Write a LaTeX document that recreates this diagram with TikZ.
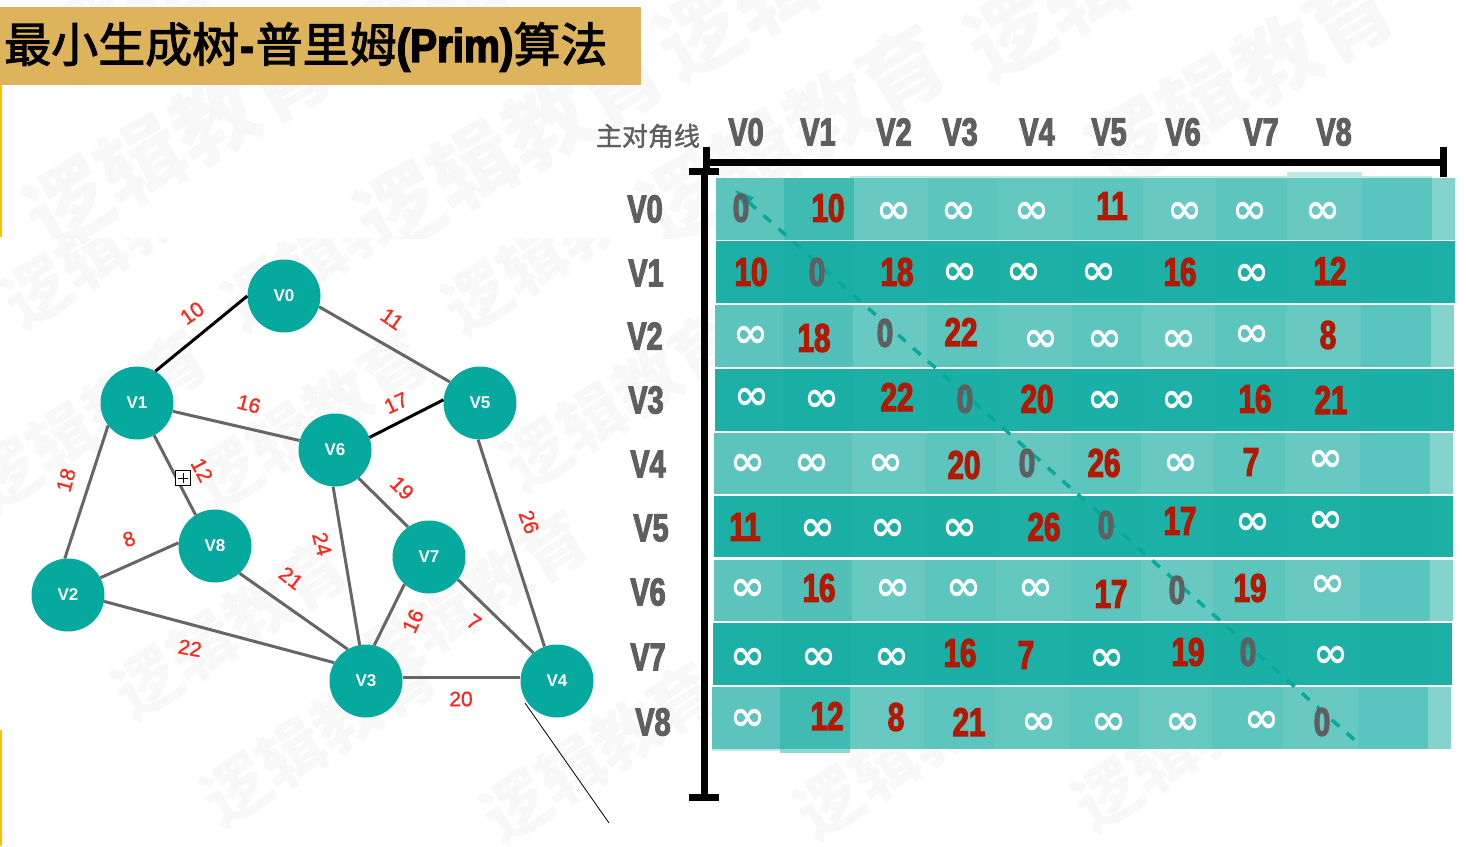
\documentclass[tikz,border=0pt]{standalone}
\usepackage{fontspec}
\usetikzlibrary{arrows,arrows.meta}
\setmainfont{Liberation Sans}
\newfontfamily\heavyfont[FakeStretch=0.74,BoldFeatures={FakeStretch=0.74,FakeBold=2.8}]{Liberation Sans}
\newfontfamily\primfont[FakeStretch=0.86,BoldFeatures={FakeStretch=0.86,FakeBold=3}]{Liberation Sans}
\newfontfamily\weightfont[FakeBold=0.8]{Liberation Sans}
\newfontfamily\cjkfont{Noto Sans CJK SC}
\newfontfamily\titlefont[FakeBold=2.2]{Noto Sans CJK SC}
\newfontfamily\diagfont[FakeBold=1.4]{Noto Sans CJK SC}
\newfontfamily\symfont{DejaVu Sans}
\definecolor{teal0}{HTML}{06A99D}
\definecolor{edgegray}{HTML}{666666}
\definecolor{labelgray}{HTML}{5F5F5F}
\definecolor{numred}{HTML}{B31800}
\definecolor{weightred}{HTML}{F9281C}
\definecolor{barcol}{HTML}{DDB35B}
\definecolor{sidecol}{HTML}{FFC000}
\definecolor{wmark}{HTML}{F8F8F8}
\tikzset{
vertex/.style={circle,fill=teal0,text=white,minimum size=73,inner sep=0,font=\fontsize{17}{17}\selectfont\bfseries},
edge/.style={edgegray,line width=3},
treeedge/.style={black,line width=3},
weight/.style={text=weightred,inner sep=0,font=\weightfont\fontsize{21}{21}\selectfont},
head/.style={text=labelgray,inner sep=0,font=\heavyfont\bfseries\fontsize{39}{39}\selectfont},
num/.style={text=numred,inner sep=0,font=\heavyfont\bfseries\fontsize{40}{40}\selectfont},
zero/.style={text=labelgray,inner sep=0,font=\heavyfont\bfseries\fontsize{40}{40}\selectfont},
inf/.style={text=white,inner sep=0,yshift=-3,font=\symfont\bfseries\fontsize{42}{42}\selectfont},
axis/.style={black,line width=7},
wmbig/.style={text=wmark,inner sep=0,rotate=30,font=\cjkfont\bfseries\fontsize{85}{85}\selectfont},
wmsmall/.style={text=wmark,inner sep=0,rotate=33,font=\cjkfont\bfseries\fontsize{66}{66}\selectfont}
}
\begin{document}
\begin{tikzpicture}[x=1pt,y=-1pt]
\useasboundingbox (0,0) rectangle (1466,846);

\begin{scope}
\clip (0,0) rectangle (1466,238);
\foreach \wx/\wy [count=\k] in {178/140,510/145,792/135,1240/80,200/-30,500/-30,810/-30,1120/-30}
\node (wmtop\k) [wmbig] at (\wx,\wy) {逻辑教育};
\end{scope}
\begin{scope}
\clip (0,238) rectangle (1466,846);
\foreach \wx/\wy [count=\k] in {120/237,340/240,560/243,90/420,310/420,620/400,230/628,470/600,319/735,599/752,912/748,1190/740}
\node (wmlow\k) [wmsmall] at (\wx,\wy) {逻辑教育};
\end{scope}

\fill[sidecol] (0,85) rectangle (2,237);
\fill[sidecol] (0,730) rectangle (2,846);
\fill[barcol] (0,7) rectangle (641,85);
\node (title) [anchor=west,inner sep=0,font=\titlefont\fontsize{47}{47}\selectfont] at (4,47)
{最小生成树{\primfont\bfseries\kern1pt-\kern2pt}普里姆{\primfont\bfseries(Prim)}算法};

% graph
\node (V0) [vertex] at (284,296) {V0};
\node (V1) [vertex] at (137,403) {V1};
\node (V2) [vertex] at (68,595) {V2};
\node (V3) [vertex] at (366,681) {V3};
\node (V4) [vertex] at (557,681) {V4};
\node (V5) [vertex] at (480,403) {V5};
\node (V6) [vertex] at (335,450) {V6};
\node (V7) [vertex] at (429,557) {V7};
\node (V8) [vertex] at (215,546) {V8};

\draw[treeedge] (V0.180) -- (V1.60);
\draw[treeedge] (V6.20) -- (V5.175);
\draw[edge] (V0.-17) -- (V5.145);
\draw[edge] (V1.-13) -- (V6.165);
\draw[edge] (V1.-62) -- (V8.122);
\draw[edge] (V1.218) -- (V2.95);
\draw[edge] (V2.28) -- (V8.175);
\draw[edge] (V2.-10) -- (V3.150);
\draw[edge] (V8.-48) -- (V3.120);
\draw[edge] (V6.-93) -- (V3.100);
\draw[edge] (V6.-50) -- (V7.125);
\draw[edge] (V7.228) -- (V3.77);
\draw[edge] (V7.-38) -- (V4.130);
\draw[edge] (V5.-93) -- (V4.110);
\draw[edge] (V3.5) -- (V4.175);

\foreach \wx/\wy/\wa/\wt [count=\k] in {192/313/35/10,392/319/-35/11,249/404/-15/16,396/403/25/17,66/480/75/18,
202/470/-62/12,129/539/20/8,402/488/-45/19,322/544/-75/24,291/578/-38/21,529/522/-70/26,413/621/65/16,
474/622/-35/7,190/648/-10/22,461/699/0/20}
\node (weight\k) [weight,rotate=\wa] at (\wx,\wy) {\wt};

\node (plusbox) [draw=black,fill=white,line width=0.8,minimum size=15,inner sep=0] at (183,478) {};
\draw[line width=0.8] (plusbox.center) ++(-5,0) -- ++(10,0) (plusbox.center) ++(0,-5) -- ++(0,10);

\coordinate (stray0) at (525,703);
\coordinate (stray1) at (609,823);
\draw[line width=0.8] (stray0) -- (stray1);

% matrix bands
\fill[teal0!25] (1287,172) rectangle (1362,178);
\fill[teal0!45] (780,749) rectangle (850,753);
\fill[teal0!25] (712,749) rectangle (780,751);
\fill[teal0!25] (850,176) rectangle (1432,178);
\foreach \ry/\rh/\rs/\cb in {178/62/0/3FBBB1,305/62/-1/52C0B8,433/61/-2/5CC4BC,560/61/-2/52C0B8,687/62/-4/3FBBB1}
{
\foreach \xa/\xb/\cc in {716/784/5CC4BC,854/928/67C9C2,928/998/5CC5BD,998/1073/64C8C0,
1073/1143/5CC5BD,1143/1216/67C9C2,1216/1287/5CC5BD,1287/1362/67C9C2,1362/1432/5AC5BE,1432/1455/84D3CD}
{
\definecolor{cellcol}{HTML}{\cc}
\fill[cellcol] (\xa+\rs,\ry) rectangle (\xb+\rs,\ry+\rh);
\draw[white,opacity=0.35,line width=1] (\xb+\rs,\ry) -- (\xb+\rs,\ry+\rh);
}
\definecolor{cellcol}{HTML}{\cb}
\fill[cellcol] (784+\rs,\ry) rectangle (854+\rs,\ry+\rh);
}
\foreach \ry/\rh/\rs in {241/62/0,369/62/-1,496/61/-2,623/62/-3}
\foreach \xa/\xb/\cc in {716/784/1CB0A6,784/854/1AAFA5,854/928/1CB0A6,928/998/1BB0A6,998/1073/1CB0A6,
1073/1143/1BB0A6,1143/1216/1CB0A6,1216/1287/1BB0A6,1287/1362/1CB0A6,1362/1432/1BB0A6,1432/1455/1CB0A6}
{
\definecolor{cellcol}{HTML}{\cc}
\fill[cellcol] (\xa+\rs,\ry) rectangle (\xb+\rs,\ry+\rh);
}

% axes
\coordinate (xa0) at (704,162);
\coordinate (xa1) at (1443,162);
\coordinate (ya0) at (704,171);
\coordinate (ya1) at (704,797);
\draw[axis] (xa0) -- (xa1);
\draw[axis] (ya0) -- (ya1);
\draw[axis] (706.5,147) -- (706.5,175);
\draw[axis] (1443,147) -- (1443,177);
\draw[axis] (689,171) -- (719,171);
\draw[axis] (689,797) -- (719,797);

\node (diagname) [text=labelgray,inner sep=0,font=\diagfont\fontsize{26}{26}\selectfont] at (648,136) {主对角线};

\foreach \hx/\hname in {746/V0,818/V1,894/V2,960/V3,1037/V4,1109/V5,1183/V6,1261/V7,1334/V8}
\node (col\hname) [head] at (\hx,132) {\hname};
\foreach \hx/\hy/\hname in {645/209/V0,646/273/V1,645/336/V2,646/400/V3,648/464/V4,651/528/V5,648/592/V6,648/657/V7,653/722/V8}
\node (row\hname) [head] at (\hx,\hy) {\hname};

\coordinate (diag0) at (735,190);
\coordinate (diag1) at (1358,743);

% matrix values
\foreach \vx/\vy/\vt [count=\k] in {828/208/10,1112/206/11,751/272/10,897/272/18,1180/272/16,1330/271/12,
814/338/18,961/332/22,1328/335/8,897/397/22,1037/399/20,1255/399/16,1331/400/21,
964/465/20,1104/463/26,1251/462/7,745/527/11,1044/527/26,1180/521/17,
819/588/16,1111/594/17,1250/588/19,960/653/16,1026/655/7,1188/652/19,
827/716/12,896/717/8,969/722/21}
\node (num\k) [num] at (\vx,\vy) {\vt};
\draw[{Triangle[length=19,width=13]}-,teal0,line width=3.5,dash pattern=on 10 off 10] (diag0) -- (diag1);
\foreach \vx/\vy [count=\k] in {741/208,817/272,885/333,965/399,1027/463,1106/525,1177/590,1248/652,1322/722}
\node (zero\k) [zero] at (\vx,\vy) {0};
\foreach \vx/\vy [count=\k] in {894/210,959/210,1032/210,1185/210,1250/210,1323/210,
960/271,1024/271,1099/271,1252/272,
751/334,1041/338,1105/338,1179/338,1252/333,
752/396,822/398,1105/399,1179/399,
748/462,812/462,886/462,1181/462,1326/458,
818/527,888/527,960/527,1253/521,1326/519,
748/587,893/587,964/587,1036/587,1328/583,
748/656,819/656,892/656,1107/657,1331/654,
748/717,1039/721,1109/721,1183/721,1262/719}
\node (inf\k) [inf] at (\vx,\vy) {∞};
\end{tikzpicture}
\end{document}
